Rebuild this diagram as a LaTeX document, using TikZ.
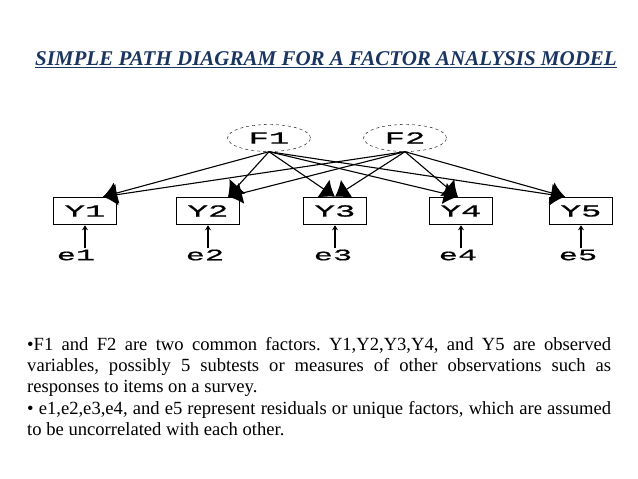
\documentclass[tikz,border=0pt]{standalone}
\usepackage{fontspec}
\setmainfont{Liberation Serif}
\newfontfamily\pathfont{Liberation Mono}[FakeStretch=2,FakeBold=0.8]
\usetikzlibrary{positioning,arrows.meta,shapes.geometric}
\definecolor{titleblue}{HTML}{1B3561}

\begin{document}
\frenchspacing
\begin{tikzpicture}[x=1pt, y=-1pt,
  fac/.style={draw, dashed, thin, shape=ellipse, minimum width=83pt, minimum height=27pt, inner sep=0pt, font=\pathfont\fontsize{17}{17}\selectfont},
  obs/.style={draw, line width=1.5pt, shape=rectangle, minimum width=63pt, minimum height=27pt, inner sep=0pt, font=\pathfont\fontsize{17}{17}\selectfont},
  err/.style={inner sep=1pt, font=\pathfont\fontsize{16}{16}\selectfont},
  load/.style={-{Latex[length=14pt,width=22pt]}, line width=1.1pt},
  res/.style={-{Stealth[length=5pt,width=6pt]}, line width=1.4pt}]
\useasboundingbox (0,0) rectangle (638,479);

\node (title) at (326,60) {\color{titleblue}\fontsize{21}{21}\selectfont\bfseries\itshape\underline{SIMPLE PATH DIAGRAM FOR A FACTOR ANALYSIS MODEL}};

% factors
\node[fac] (F1) at (269,138) {F1};
\node[fac] (F2) at (405,138) {F2};

% observed variables
\node[obs] (Y1) at (85,211) {Y1};
\node[obs] (Y2) at (208,211) {Y2};
\node[obs] (Y3) at (335,211) {Y3};
\node[obs] (Y4) at (461,211) {Y4};
\node[obs] (Y5) at (581,211) {Y5};

% residuals
\node[err] (e1) at (76,255) {e1};
\node[err] (e2) at (205,255) {e2};
\node[err] (e3) at (333,255) {e3};
\node[err] (e4) at (458,255) {e4};
\node[err] (e5) at (578,255) {e5};

\foreach \y/\dx in {Y1/18,Y2/20,Y3/0,Y4/-3,Y5/-16} {
  \draw[load] (F1.south) -- ([xshift=\dx pt]\y.north);
  \draw[load] (F2.south) -- ([xshift=\dx pt]\y.north);
}
\foreach \i in {1,...,5}
  \draw[res] (e\i.north -| Y\i.south) -- (Y\i.south);

\node[anchor=north west, inner sep=0pt, text width=584pt, align=justify, font=\fontsize{18.6}{21.3}\selectfont] (notes) at (27,337) {•F1 and F2 are two common factors. Y1,Y2,Y3,Y4, and Y5 are observed\linebreak variables, possibly 5 subtests or measures of other observations such as\linebreak responses to items on a survey.\par • e1,e2,e3,e4, and e5 represent residuals or unique factors, which are assumed\linebreak to be uncorrelated with each other.};
\end{tikzpicture}
\end{document}
